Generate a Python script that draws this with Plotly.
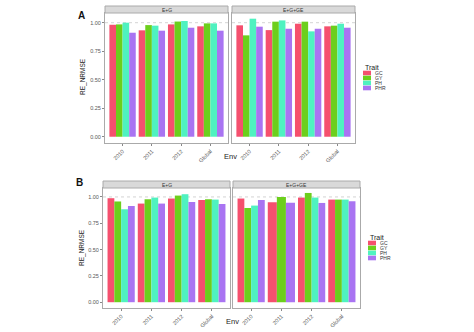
import plotly.graph_objects as go

# ---- data -------------------------------------------------------------
envs = ["2010", "2011", "2012", "Global"]
traits = ["GC", "GY", "PH", "PHR"]
trait_colors = ["#F5506E", "#6CCF1C", "#4FF2C0", "#A974F2"]
models = ["E+G", "E+G+GE"]

# RE_NRMSE per trait, one value per environment
a_eg = {
    "GC":  [0.982, 0.933, 0.985, 0.968],
    "GY":  [0.985, 0.979, 1.010, 0.994],
    "PH":  [1.000, 0.974, 1.015, 0.994],
    "PHR": [0.912, 0.930, 0.956, 0.930],
}
a_egge = {
    "GC":  [0.977, 0.935, 0.991, 0.968],
    "GY":  [0.889, 1.009, 1.009, 0.974],
    "PH":  [1.035, 1.020, 0.924, 0.991],
    "PHR": [0.965, 0.947, 0.947, 0.956],
}
b_eg = {
    "GC":  [0.988, 0.937, 0.985, 0.971],
    "GY":  [0.957, 0.978, 1.013, 0.978],
    "PH":  [0.883, 0.994, 1.026, 0.975],
    "PHR": [0.914, 0.937, 0.952, 0.933],
}
b_egge = {
    "GC":  [0.985, 0.950, 0.994, 0.975],
    "GY":  [0.895, 1.000, 1.038, 0.975],
    "PH":  [0.918, None, 0.994, 0.975],
    "PHR": [0.971, 0.946, 0.943, 0.959],
}
y_ticks = [0.0, 0.25, 0.5, 0.75, 1.0]
y_ticktext = ["0.00", "0.25", "0.50", "0.75", "1.00"]

# ---- layout helpers ---------------------------------------------------
W, H = 474, 332
FONT = "Liberation Sans"
TICK_COL = "#555555"


def px(x):
    return x / W


def py(y):
    return 1 - y / H


# panel boxes in pixels: (x0, x1, y_top, y_bottom) plus strip top
panels = [
    # row A
    dict(data=a_eg, title=models[0], x0=105, x1=228, yt=13, yb=143, st=6),
    dict(data=a_egge, title=models[1], x0=232, x1=355, yt=13, yb=143, st=6),
    # row B
    dict(data=b_eg, title=models[0], x0=103, x1=230, yt=188, yb=308, st=181),
    dict(data=b_egge, title=models[1], x0=233, x1=360, yt=188, yb=308, st=181),
]

fig = go.Figure()
shapes = []
annotations = []
layout_axes = {}

for i, p in enumerate(panels):
    n = i + 1
    xa = "xaxis" if n == 1 else f"xaxis{n}"
    ya = "yaxis" if n == 1 else f"yaxis{n}"
    xr = "x" if n == 1 else f"x{n}"
    yr = "y" if n == 1 else f"y{n}"

    # dodge: bars share 0.9 of each env slot among the traits present
    pos = {t: ([], [], []) for t in traits}
    for gi, env in enumerate(envs):
        present = [t for t in traits if p["data"][t][gi] is not None]
        w = 0.9 / len(present)
        for k, t in enumerate(present):
            pos[t][0].append(gi + 1 - 0.45 + (k + 0.5) * w)
            pos[t][1].append(p["data"][t][gi])
            pos[t][2].append(w)

    for t, c in zip(traits, trait_colors):
        xs, ys, ws = pos[t]
        fig.add_trace(go.Bar(
            x=xs, y=ys, width=ws, marker=dict(color=c, line=dict(width=0)),
            name=t, showlegend=False, xaxis=xr, yaxis=yr,
        ))

    bottom_row = True
    layout_axes[xa] = dict(
        domain=[px(p["x0"]), px(p["x1"])], anchor=yr, range=[0.4, 4.6],
        tickmode="array", tickvals=[1, 2, 3, 4], ticktext=envs,
        tickangle=-45, tickfont=dict(size=5.5, color=TICK_COL, family=FONT),
        ticks="outside", ticklen=2, tickcolor="#888888",
        showgrid=False, zeroline=False, showline=True, mirror=True,
        linecolor="#AAAAAA", linewidth=1, fixedrange=True,
    )
    left = (i % 2 == 0)
    layout_axes[ya] = dict(
        domain=[py(p["yb"]), py(p["yt"])], anchor=xr, range=[-0.055, 1.085],
        tickmode="array", tickvals=y_ticks, ticktext=y_ticktext,
        showticklabels=left, ticks="outside" if left else "", ticklen=2,
        tickcolor="#888888",
        tickfont=dict(size=5.5, color=TICK_COL, family=FONT),
        showgrid=False, zeroline=False, showline=True, mirror=True,
        linecolor="#AAAAAA", linewidth=1, fixedrange=True,
    )

    # reference line at RE_NRMSE = 1
    shapes.append(dict(type="line", xref=f"{xr} domain", yref=yr,
                       x0=0, x1=1, y0=1, y1=1,
                       line=dict(color="#C8C8C8", width=0.8, dash="dot"),
                       layer="below"))
    # facet strip
    shapes.append(dict(type="rect", xref="paper", yref="paper",
                       x0=px(p["x0"]), x1=px(p["x1"]),
                       y0=py(p["yt"]), y1=py(p["st"]),
                       fillcolor="#D9D9D9", line=dict(color="#AAAAAA", width=1)))
    annotations.append(dict(text=p["title"], xref="paper", yref="paper",
                            x=px((p["x0"] + p["x1"]) / 2),
                            y=py((p["yt"] + p["st"]) / 2),
                            showarrow=False, xanchor="center", yanchor="middle",
                            font=dict(size=5, color="#333333", family=FONT)))

# row titles, axis titles and legends
rows = [
    dict(tag="A", tag_xy=(81, 15), ylab_xy=(83, 77), env_xy=(230, 156),
         leg_x=363, leg_title_y=67, leg_y0=73),
    dict(tag="B", tag_xy=(79, 182), ylab_xy=(82, 248), env_xy=(232, 321),
         leg_x=368, leg_title_y=237, leg_y0=243),
]
for r in rows:
    annotations.append(dict(text=f"<b>{r['tag']}</b>", xref="paper", yref="paper",
                            x=px(r["tag_xy"][0]), y=py(r["tag_xy"][1]),
                            showarrow=False, xanchor="center", yanchor="middle",
                            font=dict(size=10, color="#111111", family=FONT)))
    annotations.append(dict(text="RE_NRMSE", xref="paper", yref="paper",
                            x=px(r["ylab_xy"][0]), y=py(r["ylab_xy"][1]),
                            textangle=-90, showarrow=False,
                            xanchor="center", yanchor="middle",
                            font=dict(size=6.5, color="#222222", family=FONT)))
    annotations.append(dict(text="Env", xref="paper", yref="paper",
                            x=px(r["env_xy"][0]), y=py(r["env_xy"][1]),
                            showarrow=False, xanchor="center", yanchor="middle",
                            font=dict(size=7.5, color="#222222", family=FONT)))
    annotations.append(dict(text="Trait", xref="paper", yref="paper",
                            x=px(r["leg_x"]), y=py(r["leg_title_y"]),
                            showarrow=False, xanchor="left", yanchor="middle",
                            font=dict(size=7, color="#222222", family=FONT)))
    for k, (t, c) in enumerate(zip(traits, trait_colors)):
        yc = r["leg_y0"] + k * 5
        shapes.append(dict(type="rect", xref="paper", yref="paper",
                           x0=px(r["leg_x"]), x1=px(r["leg_x"] + 8),
                           y0=py(yc + 2.3), y1=py(yc - 2.3),
                           fillcolor=c, line=dict(width=0)))
        annotations.append(dict(text=t, xref="paper", yref="paper",
                                x=px(r["leg_x"] + 10), y=py(yc),
                                showarrow=False, xanchor="left", yanchor="middle",
                                font=dict(size=5, color="#333333", family=FONT)))

fig.update_layout(
    width=W, height=H, margin=dict(l=0, r=0, t=0, b=0),
    paper_bgcolor="white", plot_bgcolor="white",
    barmode="overlay", showlegend=False,
    shapes=shapes, annotations=annotations,
    font=dict(family=FONT),
    **layout_axes,
)

fig.write_html("out.html")
